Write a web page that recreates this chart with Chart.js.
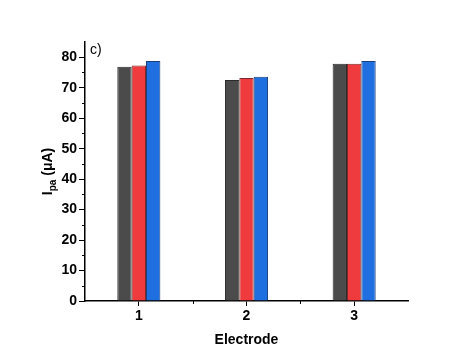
<!DOCTYPE html>
<html>
<head>
<meta charset="utf-8">
<script src="https://cdn.jsdelivr.net/npm/chart.js@4"></script>
<style>
  html, body { margin: 0; padding: 0; background: #fff; }
  #wrap { width: 474px; height: 362px; }
</style>
</head>
<body>
<div id="wrap"><canvas id="myChart"></canvas></div>
<script>
const electrodes = ['1', '2', '3'];
const run1 = [76.9, 72.5, 77.9];
const run2 = [77.3, 73.2, 77.9];
const run3 = [78.8, 73.6, 78.8];
const yTicks = [0, 10, 20, 30, 40, 50, 60, 70, 80];

const FONT = '"Liberation Sans", Arial, sans-serif';

// outward minor ticks, panel letter and the y title with subscript
const extras = {
  id: 'extras',
  afterDraw(chart) {
    const ctx = chart.ctx;
    const x = chart.scales.x, y = chart.scales.y;
    const area = chart.chartArea;
    ctx.save();
    ctx.strokeStyle = '#000';
    ctx.lineWidth = 1;
    ctx.beginPath();
    for (let v = 5; v < 85; v += 10) {
      const py = Math.round(y.getPixelForValue(v)) + 0.5;
      ctx.moveTo(area.left - 3, py);
      ctx.lineTo(area.left, py);
    }
    for (let i = 0; i < electrodes.length - 1; i++) {
      const px = Math.round((x.getPixelForValue(i) + x.getPixelForValue(i + 1)) / 2) + 0.5;
      ctx.moveTo(px, area.bottom);
      ctx.lineTo(px, area.bottom + 3);
    }
    ctx.stroke();

    ctx.fillStyle = '#000';
    ctx.font = '14px ' + FONT;
    ctx.textBaseline = 'top';
    ctx.fillText('c)', area.left + 5, area.top + 1);

    // y title
    ctx.translate(48, (area.top + area.bottom) / 2);
    ctx.rotate(-Math.PI / 2);
    const big = 'bold 14px ' + FONT, small = 'bold 10px ' + FONT;
    ctx.font = big; const w1 = ctx.measureText('I').width;
    ctx.font = small; const w2 = ctx.measureText('pa').width;
    ctx.font = big; const w3 = ctx.measureText(' (\u03bcA)').width;
    let cx = -(w1 + w2 + w3) / 2;
    ctx.textBaseline = 'middle';
    ctx.font = big; ctx.fillText('I', cx, 0); cx += w1;
    ctx.font = small; ctx.fillText('pa', cx, 5); cx += w2;
    ctx.font = big; ctx.fillText(' (\u03bcA)', cx, 0);
    ctx.restore();
  }
};

const data = {
  labels: electrodes,
  datasets: [
    { data: run1, backgroundColor: '#4b4b4b', borderColor: '#2a2a2a', borderWidth: 1 },
    { data: run2, backgroundColor: '#ef3b3d', borderColor: '#7a2a2a', borderWidth: 1 },
    { data: run3, backgroundColor: '#1f6fe0', borderColor: '#1a3f7a', borderWidth: 1 }
  ]
};

const config = {
  type: 'bar',
  data,
  options: {
    responsive: true,
    maintainAspectRatio: false,
    animation: false,
    layout: { padding: { top: 42, right: 66, left: 0, bottom: 9 } },
    datasets: { bar: { categoryPercentage: 0.4, barPercentage: 1.0 } },
    plugins: { legend: { display: false }, tooltip: { enabled: false } },
    scales: {
      x: {
        grid: { display: true, offset: false, drawOnChartArea: false, tickLength: 5, color: '#000', lineWidth: 1 },
        border: { display: true, color: '#000', width: 1.5 },
        ticks: { color: '#000', font: { family: FONT, size: 14, weight: 'bold' }, padding: 2 },
        title: { display: true, text: 'Electrode', color: '#000', font: { family: FONT, size: 14, weight: 'bold' }, padding: { top: 4 } },
        afterFit(s) { s.height = 52; }
      },
      y: {
        min: 0,
        max: 85,
        afterBuildTicks(s) { s.ticks = yTicks.map(v => ({ value: v })); },
        grid: { display: true, drawOnChartArea: false, tickLength: 6, color: '#000', lineWidth: 1 },
        border: { display: true, color: '#000', width: 1.5 },
        ticks: { color: '#000', font: { family: FONT, size: 14, weight: 'bold' }, padding: 2 },
        afterFit(s) { s.width = 85; }
      }
    }
  },
  plugins: [extras]
};

const myChart = new Chart(document.getElementById('myChart'), config);
</script>
</body>
</html>
